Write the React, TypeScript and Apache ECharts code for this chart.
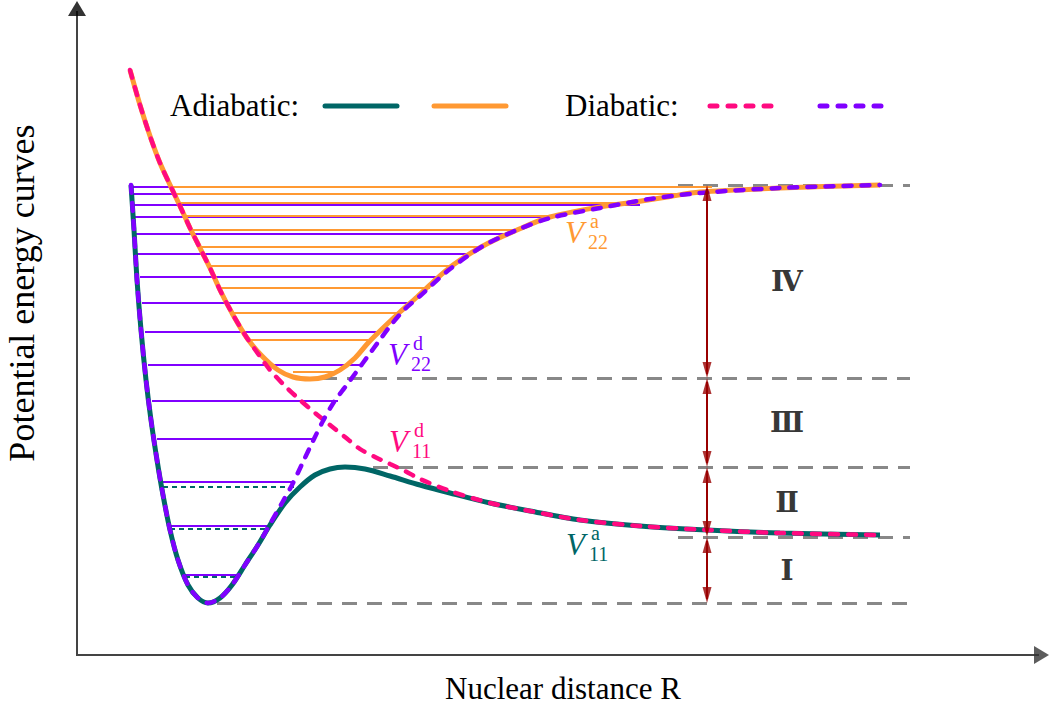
import React, { useEffect, useRef } from "react";
import * as echarts from "echarts";

const W = 1051;
const H = 705;

// ---- Potential curves, [R, E] in chart units (E grows downward on screen) ----
const adiabatic11 = [
  [131, 185], [134, 230], [137, 280], [141, 330], [146, 380], [151, 420], [157, 460],
  [163, 495], [170, 530], [178, 560], [188, 585], [198, 598], [208, 603], [220, 598],
  [232, 585], [245, 565], [258, 545], [270, 525], [285, 503], [300, 487], [315, 475],
  [330, 469], [345, 467], [365, 469], [390, 476], [420, 485], [450, 493], [490, 503],
  [530, 511], [580, 520], [640, 526], [707, 530], [780, 533], [880, 535],
];
const adiabatic22 = [
  [130, 70], [140, 105], [150, 136], [160, 163], [171, 187], [180, 206], [190, 228], [200, 248],
  [210, 268], [220, 290], [232, 313], [247, 338], [262, 356], [278, 370], [293, 377],
  [310, 379], [325, 377], [340, 370], [355, 358], [368, 343], [383, 328], [400, 312],
  [417, 297], [433, 282], [453, 265], [483, 246], [517, 230], [550, 217], [600, 207],
  [635, 202], [667, 197], [700, 192], [780, 188], [880, 185],
];
const diabatic11 = [
  [130, 70], [140, 105], [150, 136], [160, 163], [171, 187], [180, 206], [190, 228], [200, 248],
  [210, 268], [220, 290], [232, 313], [247, 338], [259, 355], [270, 370], [285, 386],
  [300, 400], [315, 413], [330, 425], [345, 437], [360, 449], [375, 457], [390, 464],
  [405, 471], [420, 479], [450, 491], [490, 503], [530, 511], [580, 520], [640, 526],
  [707, 530], [780, 533], [880, 535],
];
const diabatic22 = [
  [131, 185], [134, 230], [137, 280], [141, 330], [146, 380], [151, 420], [157, 460],
  [163, 495], [170, 530], [178, 560], [188, 585], [198, 598], [208, 603], [220, 598],
  [232, 585], [245, 565], [258, 545], [270, 524], [282, 503], [292, 485], [303, 462],
  [313, 441], [323, 421], [334, 402], [346, 386], [357, 371], [368, 356], [379, 341],
  [391, 325], [405, 309], [420, 296], [450, 269], [483, 246], [517, 230], [550, 218],
  [600, 208], [650, 199], [700, 193], [780, 188], [880, 185],
];

// ---- Vibrational levels: energy, left and right turning points ----
const diabaticLevelE = [187, 194, 205, 217, 234, 254, 277, 303, 332, 365, 401, 439, 482, 526, 575];
const diabaticLevelL = [131, 132, 133, 134, 136, 137, 140, 142, 145, 148, 152, 157, 162, 169, 185];
const diabaticLevelR = [712, 700, 640, 550, 510, 470, 440, 412, 381, 362, 338, 315, 293, 268, 240];

const adiabatic22LevelE = [187, 194, 203, 216, 230, 247, 266, 288, 313, 340, 372];
const adiabatic22LevelL = [171, 174, 179, 185, 191, 199, 208, 218, 231, 250, 293];
const adiabatic22LevelR = [712, 700, 635, 550, 517, 483, 453, 430, 400, 368, 333];

const adiabatic11LevelE = [487, 529, 577];
const adiabatic11LevelL = [163, 170, 185];
const adiabatic11LevelR = [300, 268, 240];

// ---- Energy-region boundaries ----
const boundaryE = [185, 378, 467, 537, 603];
const boundaryStartR = [678, 322, 373, 678, 217];
const boundaryEndR = 910;
const arrowR = 707;
const regionLabels = ["Ⅳ", "Ⅲ", "Ⅱ", "Ⅰ"];
const regionLabelR = 787;

// ---- Axes (origin and ends) ----
const axisOrigin = [77, 655];
const axisYEnd = [77, 1];
const axisXEnd = [1049, 655];

const TEAL = "#006666";
const ORANGE = "#ff9933";
const PINK = "#ff0a80";
const PURPLE = "#8000ff";
const SERIF = "'Liberation Serif', 'Times New Roman', serif";

const seg = (E: number[], L: number[], R: number[]) =>
  E.map((e, i) => ({ coords: [[L[i], e], [R[i], e]] }));

function txt(text: string, x: number, y: number, font: string, color: string, align = "left", rotation = 0): any {
  return {
    type: "text",
    x,
    y,
    rotation,
    z: 100,
    style: {
      text,
      font,
      fill: color,
      align,
      verticalAlign: "middle",
      textAlign: align,
      textVerticalAlign: "middle",
    },
  };
}

function vLabel(x: number, y: number, sup: string, sub: string, color: string): any[] {
  return [
    txt("V", x, y, `italic 31px ${SERIF}`, color),
    txt(sup, x + 25, y - 11, `20px ${SERIF}`, color),
    txt(sub, x + 23, y + 10, `20px ${SERIF}`, color),
  ];
}

function legendLine(x1: number, x2: number, y: number, color: string, dashed: boolean): any {
  return {
    type: "line",
    z: 100,
    shape: { x1, y1: y, x2, y2: y },
    style: {
      stroke: color,
      lineWidth: 5,
      lineCap: "round",
      lineDash: dashed ? [7, 11] : null,
    },
  };
}

export default function App() {
  const ref = useRef<HTMLDivElement>(null);

  useEffect(() => {
    if (!ref.current) return;
    const chart = echarts.init(ref.current, undefined, { renderer: "svg" });

    const midE = regionLabels.map((_, i) => [regionLabelR, (boundaryE[i] + boundaryE[i + 1]) / 2]);
    const arrowUp = boundaryE.slice(0, -1).map((e) => [arrowR, e]);
    const arrowDown = boundaryE.slice(1).map((e) => [arrowR, e]);

    const curve = (data: number[][], color: string, width: number, z: number, dashed: boolean) => ({
      type: "line",
      z,
      data,
      smooth: 0.3,
      showSymbol: false,
      silent: true,
      lineStyle: dashed
        ? { color, width, type: [8, 10], cap: "round" }
        : { color, width },
    });

    const option: any = {
      animation: false,
      backgroundColor: "#ffffff",
      grid: { left: 0, right: 0, top: 0, bottom: 0 },
      xAxis: { type: "value", min: 0, max: W, show: false },
      yAxis: { type: "value", min: 0, max: H, inverse: true, show: false },
      series: [
        {
          type: "lines",
          coordinateSystem: "cartesian2d",
          z: 1,
          silent: true,
          lineStyle: { color: "#888888", width: 3, type: [15, 10], opacity: 1 },
          data: boundaryE.map((e, i) => ({ coords: [[boundaryStartR[i], e], [boundaryEndR, e]] })),
        },
        {
          type: "lines",
          coordinateSystem: "cartesian2d",
          z: 2,
          silent: true,
          lineStyle: { color: PURPLE, width: 2, opacity: 1 },
          data: seg(diabaticLevelE, diabaticLevelL, diabaticLevelR),
        },
        {
          type: "lines",
          coordinateSystem: "cartesian2d",
          z: 3,
          silent: true,
          lineStyle: { color: ORANGE, width: 2, opacity: 1 },
          data: seg(adiabatic22LevelE, adiabatic22LevelL, adiabatic22LevelR),
        },
        {
          type: "lines",
          coordinateSystem: "cartesian2d",
          z: 3,
          silent: true,
          lineStyle: { color: TEAL, width: 2, type: [5, 4], opacity: 1 },
          data: seg(adiabatic11LevelE, adiabatic11LevelL, adiabatic11LevelR),
        },
        curve(adiabatic11, TEAL, 5, 4, false),
        curve(adiabatic22, ORANGE, 5, 4, false),
        curve(diabatic11, PINK, 4.5, 5, true),
        curve(diabatic22, PURPLE, 4.5, 6, true),
        {
          type: "lines",
          coordinateSystem: "cartesian2d",
          z: 7,
          silent: true,
          lineStyle: { color: "#990000", width: 2, opacity: 1 },
          data: boundaryE.slice(0, -1).map((e, i) => ({ coords: [[arrowR, e + 4], [arrowR, boundaryE[i + 1] - 4]] })),
        },
        {
          type: "scatter",
          z: 7,
          silent: true,
          symbol: "triangle",
          symbolSize: [9, 16],
          symbolOffset: [0, 8],
          itemStyle: { color: "#990000" },
          data: arrowUp,
        },
        {
          type: "scatter",
          z: 7,
          silent: true,
          symbol: "path://M0,0L9,0L4.5,16Z",
          symbolSize: [9, 16],
          symbolOffset: [0, -8],
          itemStyle: { color: "#990000" },
          data: arrowDown,
        },
        {
          type: "lines",
          coordinateSystem: "cartesian2d",
          z: 8,
          silent: true,
          lineStyle: { color: "#444444", width: 2, opacity: 1 },
          data: [
            { coords: [axisOrigin, [axisYEnd[0], axisYEnd[1] + 10]] },
            { coords: [[axisOrigin[0] - 1, axisOrigin[1]], [axisXEnd[0] - 10, axisXEnd[1]]] },
          ],
        },
        {
          type: "scatter",
          z: 8,
          silent: true,
          symbol: "triangle",
          symbolSize: [18, 15],
          symbolOffset: [0, 7.5],
          itemStyle: { color: "#000" },
          data: [axisYEnd],
        },
        {
          type: "scatter",
          z: 8,
          silent: true,
          symbol: "path://M0,0L15,9L0,18Z",
          symbolSize: [15, 18],
          symbolOffset: [-7.5, 0],
          itemStyle: { color: "#333" },
          data: [axisXEnd],
        },
        {
          type: "scatter",
          z: 9,
          silent: true,
          symbolSize: 1,
          itemStyle: { color: "rgba(0,0,0,0)" },
          data: midE,
          label: {
            show: true,
            position: "inside",
            formatter: (p: any) => regionLabels[p.dataIndex],
            fontSize: 28,
            fontFamily: "'DejaVu Serif', serif",
            fontWeight: "bold",
            color: "#000",
          },
        },
      ],
      graphic: [
        txt("Adiabatic:", 170, 105, `31px ${SERIF}`, "#000"),
        legendLine(325, 397, 106, TEAL, false),
        legendLine(434, 506, 106, ORANGE, false),
        txt("Diabatic:", 565, 105, `31px ${SERIF}`, "#000"),
        legendLine(710, 780, 106, PINK, true),
        legendLine(820, 885, 106, PURPLE, true),
        txt("Nuclear distance R", 563, 688, `31px ${SERIF}`, "#000", "center"),
        txt("Potential energy curves", 22, 293, `36px ${SERIF}`, "#000", "center", Math.PI / 2),
        ...vLabel(565, 232, "a", "22", ORANGE),
        ...vLabel(388, 354, "d", "22", PURPLE),
        ...vLabel(389, 441, "d", "11", PINK),
        ...vLabel(566, 544, "a", "11", TEAL),
      ],
    };

    chart.setOption(option);
    return () => chart.dispose();
  }, []);

  return (
    <div
      ref={ref}
      style={{ position: "fixed", left: 0, top: 0, width: W, height: H, background: "#fff" }}
    />
  );
}
